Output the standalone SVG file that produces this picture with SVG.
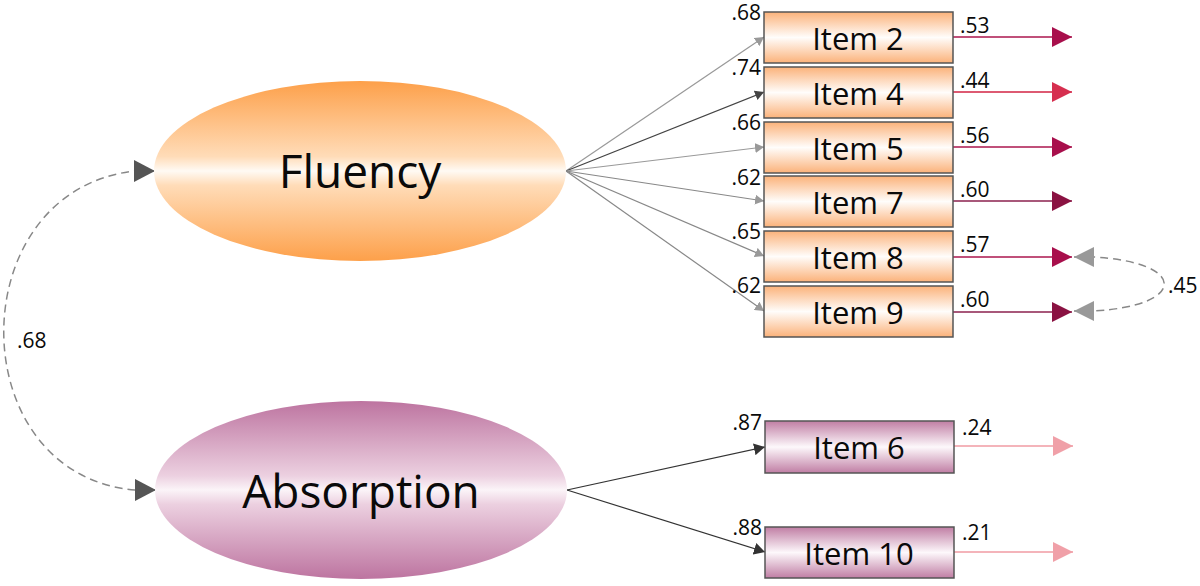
<svg xmlns="http://www.w3.org/2000/svg" width="1200" height="586" viewBox="0 0 1200 586">
<defs>
<style>
text{font-family:"Open Sans","Noto Sans","Liberation Sans",sans-serif;fill:#0a0a0a}
.lat{font-size:46px;text-anchor:middle}
.item{font-size:31px;text-anchor:middle}
.num{font-size:21px}
.ld{text-anchor:end}
.box{stroke:#555;stroke-width:1.5}
.lf{fill:none;stroke-width:1.2}
.er{fill:none;stroke-width:2}
.cov{fill:none;stroke:#888;stroke-width:1.5;stroke-dasharray:8 5}
</style>
<linearGradient id="gO" x1="0" y1="0" x2="0" y2="1">
<stop offset="0" stop-color="#fda04a"/><stop offset="0.42" stop-color="#ffdcb8"/><stop offset="0.5" stop-color="#fffaf4"/><stop offset="0.58" stop-color="#ffdcb8"/><stop offset="1" stop-color="#fda04a"/>
</linearGradient>
<linearGradient id="gOb" x1="0" y1="0" x2="0" y2="1">
<stop offset="0" stop-color="#fbb27a"/><stop offset="0.5" stop-color="#fffdfb"/><stop offset="1" stop-color="#fbb27a"/>
</linearGradient>
<linearGradient id="gP" x1="0" y1="0" x2="0" y2="1">
<stop offset="0" stop-color="#bd74a0"/><stop offset="0.42" stop-color="#ecd0e0"/><stop offset="0.5" stop-color="#fbf4f8"/><stop offset="0.58" stop-color="#ecd0e0"/><stop offset="1" stop-color="#bd74a0"/>
</linearGradient>
<linearGradient id="gPb" x1="0" y1="0" x2="0" y2="1">
<stop offset="0" stop-color="#c07ea4"/><stop offset="0.5" stop-color="#fdf8fb"/><stop offset="1" stop-color="#c07ea4"/>
</linearGradient>
<marker id="sG" markerUnits="userSpaceOnUse" markerWidth="10" markerHeight="10" refX="9" refY="5" orient="auto"><path d="M0,0 L9,5 L0,10 z" fill="#999"/></marker>
<marker id="sD" markerUnits="userSpaceOnUse" markerWidth="10" markerHeight="10" refX="9" refY="5" orient="auto"><path d="M0,0 L9,5 L0,10 z" fill="#444"/></marker>
<marker id="sK" markerUnits="userSpaceOnUse" markerWidth="12" markerHeight="12" refX="11" refY="6" orient="auto"><path d="M0,0 L11,6 L0,12 z" fill="#333"/></marker>
<marker id="bM1" markerUnits="userSpaceOnUse" markerWidth="20" markerHeight="20" refX="20" refY="10" orient="auto"><path d="M0,0 L20,10 L0,20 z" fill="#a80f4c"/></marker>
<marker id="bM2" markerUnits="userSpaceOnUse" markerWidth="20" markerHeight="20" refX="20" refY="10" orient="auto"><path d="M0,0 L20,10 L0,20 z" fill="#d62f4f"/></marker>
<marker id="bM3" markerUnits="userSpaceOnUse" markerWidth="20" markerHeight="20" refX="20" refY="10" orient="auto"><path d="M0,0 L20,10 L0,20 z" fill="#8a1242"/></marker>
<marker id="bM4" markerUnits="userSpaceOnUse" markerWidth="20" markerHeight="20" refX="20" refY="10" orient="auto"><path d="M0,0 L20,10 L0,20 z" fill="#f0a0a8"/></marker>
<marker id="cG" markerUnits="userSpaceOnUse" markerWidth="20" markerHeight="20" refX="20" refY="10" orient="auto-start-reverse"><path d="M0,0 L20,10 L0,20 z" fill="#999"/></marker>
<marker id="cD" markerUnits="userSpaceOnUse" markerWidth="21" markerHeight="22" refX="21" refY="11" orient="auto-start-reverse"><path d="M0,0 L21,11 L0,22 z" fill="#555"/></marker>
</defs>
<rect width="1200" height="586" fill="#fff"/>

<g id="connectors">
<path class="lf" stroke="#999" d="M566,171 L764,37" marker-end="url(#sG)"/>
<path class="lf" stroke="#444" d="M566,171 L764,92" marker-end="url(#sD)"/>
<path class="lf" stroke="#999" d="M566,171 L764,147" marker-end="url(#sG)"/>
<path class="lf" stroke="#888" d="M566,171 L764,201" marker-end="url(#sG)"/>
<path class="lf" stroke="#888" d="M566,171 L764,256" marker-end="url(#sG)"/>
<path class="lf" stroke="#888" d="M566,171 L764,311" marker-end="url(#sG)"/>
<path class="lf" stroke="#333" d="M567,490 L765,447" marker-end="url(#sK)"/>
<path class="lf" stroke="#333" d="M567,490 L765,552" marker-end="url(#sK)"/>

<path class="er" stroke="#c0507a" d="M953,37 L1072,37" marker-end="url(#bM1)"/>
<path class="er" stroke="#dd5a72" d="M953,92 L1072,92" marker-end="url(#bM2)"/>
<path class="er" stroke="#c0507a" d="M953,147 L1072,147" marker-end="url(#bM1)"/>
<path class="er" stroke="#a8587a" d="M953,201 L1072,201" marker-end="url(#bM3)"/>
<path class="er" stroke="#c0507a" d="M953,257 L1072,257" marker-end="url(#bM1)"/>
<path class="er" stroke="#a8587a" d="M953,312 L1072,312" marker-end="url(#bM3)"/>
<path class="er" stroke="#f4b4ba" d="M954,446 L1073,446" marker-end="url(#bM4)"/>
<path class="er" stroke="#f4b4ba" d="M954,552 L1073,552" marker-end="url(#bM4)"/>

<path class="cov" d="M1074,257 L1093,257 C1188,262 1188,306 1093,311 L1074,311" marker-start="url(#cG)" marker-end="url(#cG)"/>
<path class="cov" d="M155,171 L135,171 C-40,190 -40,475 135,490 L156,490" marker-start="url(#cD)" marker-end="url(#cD)"/>
</g>

<g id="fluency">
<ellipse cx="360" cy="171" rx="206" ry="90" fill="url(#gO)"/>
<text class="lat" x="360" y="188">Fluency</text>
</g>
<g id="absorption">
<ellipse cx="361" cy="490" rx="206" ry="89" fill="url(#gP)"/>
<text class="lat" x="361" y="508">Absorption</text>
</g>

<g id="item2"><rect class="box" x="764" y="12" width="189" height="51" fill="url(#gOb)"/><text class="item" x="858" y="50">Item 2</text></g>
<g id="item4"><rect class="box" x="764" y="67" width="189" height="51" fill="url(#gOb)"/><text class="item" x="858" y="105">Item 4</text></g>
<g id="item5"><rect class="box" x="764" y="122" width="189" height="51" fill="url(#gOb)"/><text class="item" x="858" y="160">Item 5</text></g>
<g id="item7"><rect class="box" x="764" y="176" width="189" height="51" fill="url(#gOb)"/><text class="item" x="858" y="214">Item 7</text></g>
<g id="item8"><rect class="box" x="764" y="231" width="189" height="51" fill="url(#gOb)"/><text class="item" x="858" y="269">Item 8</text></g>
<g id="item9"><rect class="box" x="764" y="286" width="189" height="51" fill="url(#gOb)"/><text class="item" x="858" y="324">Item 9</text></g>
<g id="item6"><rect class="box" x="765" y="421" width="189" height="52" fill="url(#gPb)"/><text class="item" x="859" y="459">Item 6</text></g>
<g id="item10"><rect class="box" x="765" y="527" width="189" height="51" fill="url(#gPb)"/><text class="item" x="859" y="565">Item 10</text></g>

<g id="labels">
<text class="num ld" x="761" y="20">.68</text>
<text class="num ld" x="761" y="75">.74</text>
<text class="num ld" x="761" y="130">.66</text>
<text class="num ld" x="761" y="185">.62</text>
<text class="num ld" x="761" y="239">.65</text>
<text class="num ld" x="761" y="293">.62</text>
<text class="num ld" x="762" y="430">.87</text>
<text class="num ld" x="762" y="535">.88</text>
<text class="num" x="960" y="33">.53</text>
<text class="num" x="960" y="88">.44</text>
<text class="num" x="960" y="143">.56</text>
<text class="num" x="960" y="197">.60</text>
<text class="num" x="960" y="252">.57</text>
<text class="num" x="960" y="307">.60</text>
<text class="num" x="962" y="435">.24</text>
<text class="num" x="962" y="540">.21</text>
<text class="num" x="1168" y="293">.45</text>
<text class="num" x="17" y="348">.68</text>
</g>
</svg>
